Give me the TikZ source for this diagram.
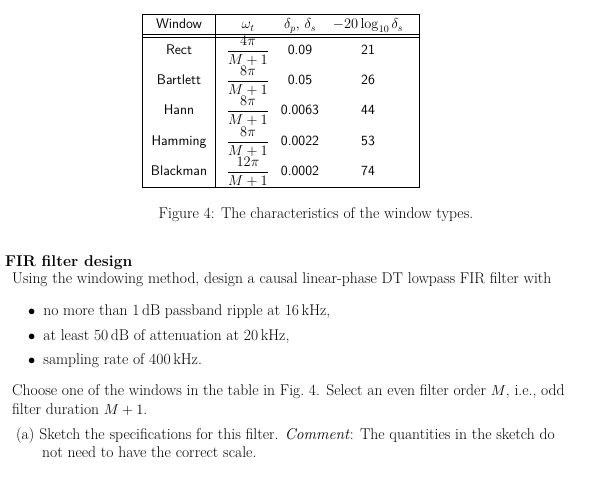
\documentclass[tikz,border=0pt]{standalone}
\begin{document}
\begin{tikzpicture}[x=1pt,y=-1pt,
  tx/.style={anchor=base west,inner sep=0pt,font=\fontsize{15.6}{17}\selectfont},
  tc/.style={anchor=base,inner sep=0pt,font=\fontsize{14}{16}\selectfont\sffamily},
  fr/.style={anchor=base,inner sep=0pt,font=\fontsize{14}{16}\selectfont}]
\useasboundingbox (0,0) rectangle (614,478);
\draw[line width=0.6pt] (142,14) rectangle (419,187);
\draw[line width=0.6pt] (142,34) -- (419,34) (142,37) -- (419,37) (215,14) -- (215,187);
\node[tc] (h1) at (179,29) {Window};
\node[fr] (h2) at (248,29) {$\omega_t$};
\node[fr] (h3) at (300,29) {$\delta_p,\,\delta_s$};
\node[fr] (h4) at (368,29) {$-20\log_{10}\delta_s$};
\foreach \n/\y/\a/\b/\c/\num in {r1/55/Rect/0.09/21/4\pi, r2/85/Bartlett/0.05/26/8\pi, r3/115/Hann/0.0063/44/8\pi, r4/146/Hamming/0.0022/53/8\pi, r5/176/Blackman/0.0002/74/12\pi}{
  \node[tc] (\n a) at (179,\y) {\a};
  \node[tc] (\n b) at (300,\y) {\b};
  \node[tc] (\n c) at (368,\y) {\c};
  \node[fr] (\n n) at (248,\y-9) {$\num$};
  \draw[line width=0.5pt] (228,\y-4) -- (268,\y-4);
  \node[fr] (\n d) at (248,\y+10) {$M+1$};
}
\node[tx,anchor=base] (cap) at (316,219) {Figure 4: The characteristics of the window types.};
\node[tx] (t0) at (5,267) {\bfseries FIR filter design};
\node[tx] (t1) at (12,284) {Using the windowing method, design a causal linear-phase DT lowpass FIR filter with};
\node[tx] (b1) at (28,316) {$\bullet$\hspace{8pt}no more than 1\,dB passband ripple at 16\,kHz,};
\node[tx] (b2) at (28,341) {$\bullet$\hspace{8pt}at least 50\,dB of attenuation at 20\,kHz,};
\node[tx] (b3) at (28,365) {$\bullet$\hspace{8pt}sampling rate of 400\,kHz.};
\node[tx] (p1) at (12,396) {Choose one of the windows in the table in Fig.~4. Select an even filter order $M$, i.e., odd};
\node[tx] (p2) at (12,415) {filter duration $M+1$.};
\node[tx] (a1) at (16,440) {(a)\hspace{5pt}Sketch the specifications for this filter. \emph{Comment}: The quantities in the sketch do};
\node[tx] (a2) at (42,458) {not need to have the correct scale.};
\end{tikzpicture}
\end{document}
